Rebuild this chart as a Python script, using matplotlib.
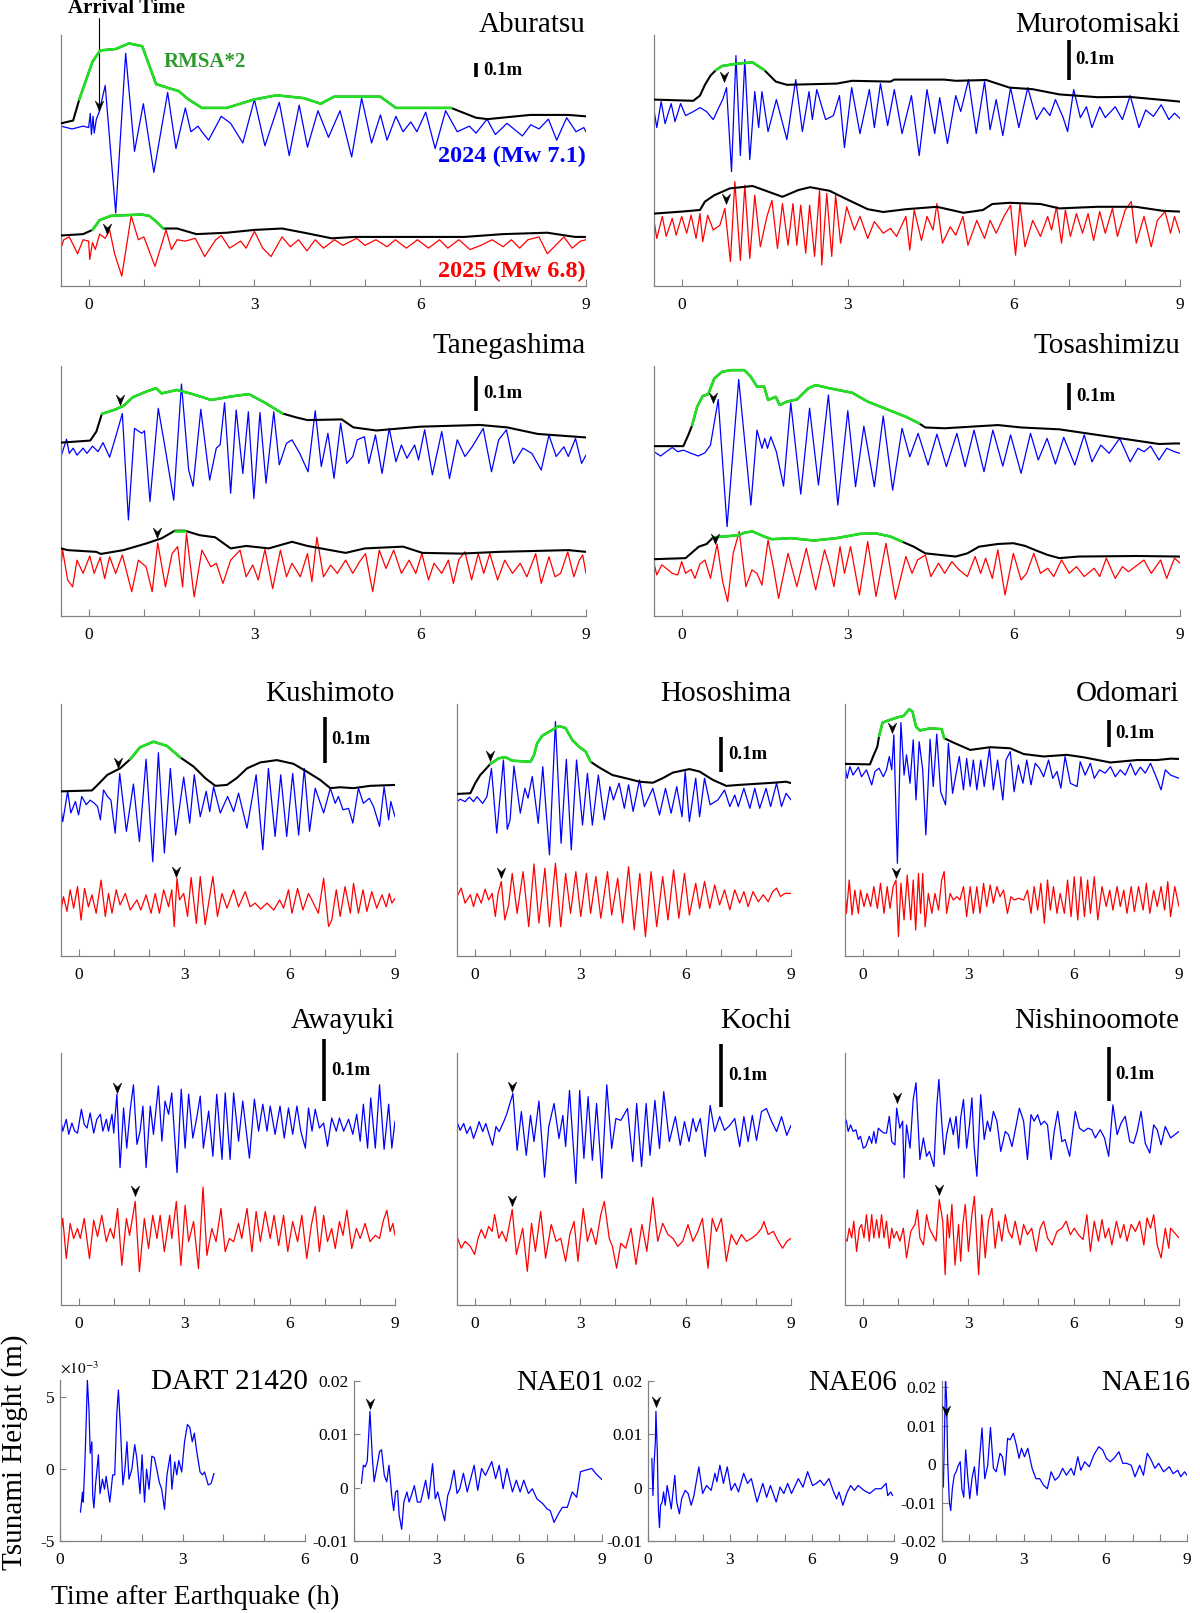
import numpy as np
import matplotlib
matplotlib.use('Agg')
import matplotlib.pyplot as plt
from matplotlib.path import Path

plt.rcParams['font.family'] = ['Liberation Serif', 'DejaVu Serif']
plt.rcParams['axes.unicode_minus'] = False
plt.rcParams['mathtext.fontset'] = 'stix'
plt.rcParams['lines.solid_joinstyle'] = 'round'
plt.rcParams['lines.solid_capstyle'] = 'round'

# ---------------- data: (time h, height m relative to trace baseline) ----------------
ABU_BLUE = [(-0.5,0.00),(-0.3,-0.02),(-0.1,0.00),(0.0,-0.01),(0.03,0.09),(0.05,-0.06),(0.08,0.07),(0.10,-0.05),(0.14,0.05),(0.19,0.10),(0.30,0.29),(0.49,-0.62),(0.67,0.52),(0.83,-0.18),(0.99,0.16),(1.18,-0.33),(1.43,0.24),(1.58,-0.16),(1.75,0.13),(1.85,-0.04),(1.98,0.00),(2.05,-0.04),(2.17,-0.10),(2.40,0.07),(2.57,0.02),(2.79,-0.12),(3.00,0.19),(3.19,-0.14),(3.45,0.17),(3.63,-0.21),(3.81,0.15),(3.96,-0.15),(4.15,0.11),(4.34,-0.08),(4.55,0.11),(4.76,-0.22),(4.94,0.20),(5.12,-0.12),(5.28,0.08),(5.40,-0.10),(5.56,0.07),(5.69,-0.04),(5.83,0.03),(5.94,-0.04),(6.10,0.10),(6.27,-0.16),(6.46,0.11),(6.67,-0.04),(6.89,0.00),(7.01,-0.05),(7.21,0.05),(7.36,-0.06),(7.57,0.02),(7.85,-0.07),(8.00,0.01),(8.15,-0.02),(8.32,0.05),(8.47,-0.10),(8.65,0.06),(8.82,-0.04),(8.96,-0.01),(9.0,-0.04)]
ABU_BENV = [(-0.5,0.02),(-0.28,0.04),(-0.17,0.19),(0.07,0.46),(0.21,0.54),(0.49,0.55),(0.73,0.59),(0.97,0.57),(1.22,0.30),(1.46,0.27),(1.63,0.25),(1.81,0.19),(2.05,0.13),(2.5,0.13),(2.99,0.19),(3.4,0.22),(3.89,0.20),(4.2,0.16),(4.44,0.21),(5.28,0.21),(5.56,0.13),(6.56,0.13),(7.01,0.06),(7.22,0.05),(7.99,0.08),(8.68,0.08),(9.0,0.07)]
ABU_RED = [(-0.5,-0.06),(-0.45,0.0),(-0.35,0.02),(-0.2,-0.10),(-0.1,0.0),(0.0,-0.01),(0.02,-0.14),(0.07,-0.02),(0.12,-0.07),(0.2,0.04),(0.3,0.01),(0.38,0.07),(0.47,-0.10),(0.6,-0.26),(0.77,0.17),(0.9,0.0),(1.0,0.02),(1.2,-0.19),(1.4,0.07),(1.5,-0.07),(1.6,0.0),(1.75,-0.01),(1.93,0.01),(2.1,-0.12),(2.3,0.0),(2.4,0.03),(2.55,-0.06),(2.75,-0.01),(2.85,-0.06),(3.0,0.06),(3.15,-0.06),(3.3,-0.12),(3.5,0.02),(3.65,-0.05),(3.8,0.0),(3.95,-0.08),(4.1,0.0),(4.25,-0.06),(4.45,0.0),(4.6,-0.04),(4.85,0.01),(5.0,-0.04),(5.2,0.0),(5.4,-0.05),(5.55,0.0),(5.75,-0.06),(5.95,0.0),(6.15,-0.06),(6.35,0.0),(6.5,-0.06),(6.7,0.0),(6.9,-0.07),(7.1,-0.04),(7.3,0.0),(7.5,-0.05),(7.65,0.0),(7.8,-0.06),(7.95,0.0),(8.15,0.02),(8.3,-0.10),(8.45,-0.04),(8.6,0.02),(8.75,-0.06),(8.9,-0.01),(9.0,0.0)]
ABU_RENV = [(-0.5,0.03),(-0.1,0.04),(0.07,0.07),(0.2,0.14),(0.4,0.17),(0.95,0.18),(1.1,0.17),(1.25,0.12),(1.35,0.08),(1.6,0.08),(1.95,0.04),(2.5,0.05),(3.0,0.07),(3.5,0.08),(3.9,0.05),(4.4,0.01),(4.8,0.02),(6.0,0.02),(6.8,0.02),(7.5,0.04),(8.3,0.05),(8.8,0.02),(9.0,0.02)]

MUR_BLUE = [(-0.5,0.004),(-0.45,-0.04),(-0.37,0.025),(-0.30,-0.03),(-0.19,0.02),(-0.12,-0.025),(-0.02,0.02),(0.07,-0.01),(0.21,0.0),(0.33,0.01),(0.45,0.0),(0.57,-0.02),(0.67,0.01),(0.74,0.03),(0.81,0.06),(0.90,-0.15),(0.98,0.14),(1.06,-0.11),(1.14,0.13),(1.23,-0.12),(1.32,0.05),(1.39,-0.04),(1.45,0.05),(1.56,-0.05),(1.71,0.03),(1.90,-0.07),(2.06,0.08),(2.18,-0.05),(2.30,0.05),(2.36,-0.02),(2.44,0.055),(2.60,-0.02),(2.74,-0.01),(2.85,0.04),(2.94,-0.09),(3.07,0.06),(3.22,-0.055),(3.39,0.055),(3.48,-0.04),(3.59,0.07),(3.72,-0.035),(3.84,0.055),(3.98,-0.055),(4.15,0.04),(4.29,-0.11),(4.43,0.055),(4.57,-0.055),(4.66,0.035),(4.80,-0.08),(4.95,0.04),(5.04,0.0),(5.18,0.08),(5.32,-0.055),(5.47,0.075),(5.57,-0.045),(5.68,0.03),(5.80,-0.06),(5.94,0.06),(6.09,-0.04),(6.25,0.06),(6.41,-0.02),(6.54,0.01),(6.65,-0.01),(6.75,0.03),(6.89,-0.015),(6.97,-0.05),(7.08,0.055),(7.20,-0.015),(7.31,0.012),(7.41,-0.04),(7.55,0.012),(7.65,-0.015),(7.83,0.012),(7.96,-0.02),(8.10,0.04),(8.26,-0.04),(8.38,0.004),(8.52,-0.012),(8.66,0.017),(8.80,-0.02),(8.90,-0.004),(9.0,-0.017)]
MUR_BENV = [(-0.5,0.03),(0.21,0.027),(0.33,0.04),(0.42,0.067),(0.52,0.09),(0.62,0.104),(0.73,0.114),(1.0,0.12),(1.28,0.123),(1.49,0.104),(1.70,0.075),(1.9,0.067),(2.8,0.07),(3.08,0.077),(3.77,0.075),(3.84,0.08),(4.74,0.08),(4.95,0.077),(5.5,0.079),(5.92,0.06),(6.34,0.056),(6.82,0.043),(7.51,0.036),(8.07,0.037),(8.62,0.03),(9.0,0.025)]
MUR_RED = [(-0.5,0.02),(-0.45,-0.025),(-0.35,0.03),(-0.28,-0.02),(-0.17,0.025),(-0.10,-0.017),(0.0,0.03),(0.09,-0.012),(0.17,0.033),(0.26,-0.025),(0.33,0.037),(0.38,-0.033),(0.47,0.033),(0.57,-0.004),(0.69,0.008),(0.78,0.05),(0.88,-0.083),(0.96,0.117),(1.06,-0.08),(1.14,0.108),(1.23,-0.075),(1.32,0.083),(1.42,-0.046),(1.54,0.03),(1.63,0.07),(1.73,-0.05),(1.82,0.062),(1.92,-0.042),(2.01,0.062),(2.08,-0.042),(2.15,0.058),(2.24,-0.062),(2.31,0.058),(2.40,-0.07),(2.49,0.096),(2.53,-0.092),(2.62,0.087),(2.71,-0.07),(2.78,0.083),(2.87,-0.037),(2.98,0.054),(3.12,-0.004),(3.22,0.03),(3.36,-0.025),(3.48,0.017),(3.64,-0.012),(3.77,0.0),(3.88,-0.02),(4.05,0.03),(4.12,-0.054),(4.20,0.046),(4.33,-0.03),(4.43,0.03),(4.54,-0.004),(4.61,0.062),(4.71,-0.037),(4.85,0.004),(4.95,-0.017),(5.08,0.03),(5.17,-0.042),(5.33,0.02),(5.47,-0.025),(5.57,0.02),(5.68,-0.012),(5.82,0.03),(5.94,0.058),(6.03,-0.067),(6.11,0.062),(6.20,-0.046),(6.34,0.02),(6.48,-0.02),(6.61,0.03),(6.68,-0.004),(6.77,0.054),(6.86,-0.037),(6.93,0.046),(7.02,-0.02),(7.13,0.037),(7.24,-0.012),(7.34,0.037),(7.44,-0.03),(7.55,0.042),(7.65,-0.012),(7.78,0.05),(7.87,-0.02),(8.01,0.046),(8.12,0.067),(8.21,-0.037),(8.35,0.03),(8.48,-0.046),(8.59,0.02),(8.73,0.042),(8.83,-0.012),(8.90,0.03),(9.0,-0.012)]
MUR_RENV = [(-0.5,0.037),(0.0,0.042),(0.33,0.046),(0.42,0.067),(0.59,0.083),(0.87,0.1),(1.28,0.106),(1.56,0.092),(1.82,0.079),(2.11,0.096),(2.32,0.103),(2.67,0.094),(3.01,0.071),(3.36,0.048),(3.64,0.041),(4.05,0.048),(4.61,0.054),(5.09,0.039),(5.44,0.046),(5.61,0.061),(5.92,0.064),(6.48,0.061),(6.82,0.05),(7.51,0.054),(8.2,0.054),(8.69,0.044),(9.0,0.042)]

TAN_BLUE = [(-0.5,-0.014),(-0.4,0.036),(-0.35,-0.005),(-0.28,0.01),(-0.21,-0.01),(-0.1,0.01),(-0.03,-0.005),(0.07,0.016),(0.17,0.0),(0.26,0.026),(0.38,-0.016),(0.49,0.043),(0.61,0.11),(0.72,-0.197),(0.83,0.067),(0.96,0.053),(1.01,0.06),(1.11,-0.144),(1.26,0.125),(1.39,0.005),(1.54,-0.14),(1.68,0.195),(1.81,-0.053),(1.89,-0.10),(2.03,0.122),(2.19,-0.082),(2.31,0.01),(2.38,0.02),(2.46,0.141),(2.57,-0.12),(2.67,0.12),(2.79,-0.063),(2.89,0.115),(2.99,-0.135),(3.10,0.113),(3.21,-0.091),(3.35,0.115),(3.45,-0.038),(3.58,0.024),(3.68,0.034),(3.82,-0.005),(3.97,-0.058),(4.10,0.118),(4.21,-0.043),(4.33,0.053),(4.44,-0.077),(4.56,0.082),(4.67,-0.034),(4.78,-0.014),(4.86,0.034),(4.99,0.043),(5.07,-0.034),(5.19,0.048),(5.31,-0.063),(5.44,0.067),(5.56,-0.029),(5.66,0.019),(5.76,-0.019),(5.90,0.019),(5.97,-0.024),(6.08,0.063),(6.22,-0.067),(6.39,0.058),(6.53,-0.077),(6.67,0.034),(6.81,-0.014),(6.94,0.014),(7.14,0.067),(7.29,-0.058),(7.42,0.034),(7.56,0.063),(7.69,-0.034),(7.86,0.01),(8.02,-0.005),(8.19,-0.053),(8.33,0.048),(8.46,-0.014),(8.60,0.014),(8.68,-0.014),(8.81,0.038),(8.92,-0.034),(9.0,-0.01)]
TAN_BENV = [(-0.5,0.026),(0.03,0.032),(0.14,0.058),(0.24,0.109),(0.49,0.122),(0.63,0.132),(0.8,0.157),(1.04,0.173),(1.22,0.183),(1.32,0.168),(1.6,0.178),(1.88,0.166),(2.22,0.149),(2.57,0.159),(2.9,0.166),(3.19,0.141),(3.51,0.11),(3.75,0.099),(3.96,0.091),(4.58,0.093),(4.79,0.07),(5.21,0.061),(6.0,0.072),(7.08,0.077),(7.57,0.07),(8.13,0.051),(8.82,0.043),(9.0,0.041)]
TAN_RED = [(-0.5,0.0),(-0.47,0.048),(-0.38,-0.038),(-0.29,-0.058),(-0.21,0.019),(-0.1,-0.019),(0.02,0.031),(0.10,-0.019),(0.21,0.027),(0.29,-0.034),(0.38,0.029),(0.49,-0.019),(0.61,0.034),(0.78,-0.072),(0.90,0.019),(1.04,0.0),(1.15,-0.072),(1.25,0.069),(1.39,-0.058),(1.51,0.038),(1.61,0.058),(1.70,-0.058),(1.77,0.096),(1.91,-0.087),(2.05,0.048),(2.21,0.0),(2.31,0.01),(2.43,-0.048),(2.57,0.019),(2.74,0.048),(2.85,-0.029),(2.97,0.005),(3.07,-0.038),(3.19,0.05),(3.33,-0.063),(3.47,0.048),(3.58,-0.029),(3.68,0.01),(3.83,-0.029),(3.96,0.038),(4.04,-0.043),(4.13,0.085),(4.25,-0.029),(4.38,0.005),(4.50,-0.019),(4.65,0.019),(4.78,-0.019),(4.90,0.014),(5.01,0.038),(5.14,-0.072),(5.26,0.048),(5.38,-0.005),(5.52,0.048),(5.66,-0.019),(5.80,0.019),(5.92,-0.019),(6.03,0.038),(6.15,-0.038),(6.25,0.01),(6.39,-0.019),(6.51,0.019),(6.60,-0.048),(6.70,0.021),(6.81,0.043),(6.93,-0.038),(7.05,0.038),(7.15,-0.019),(7.26,0.038),(7.40,-0.038),(7.53,0.019),(7.67,-0.019),(7.81,0.01),(7.93,-0.029),(8.09,0.038),(8.19,-0.048),(8.33,0.029),(8.44,-0.029),(8.54,-0.019),(8.67,0.043),(8.78,-0.029),(8.88,0.019),(8.94,0.034),(9.0,-0.019)]
TAN_RENV = [(-0.5,0.053),(-0.38,0.048),(0.14,0.043),(0.22,0.037),(0.63,0.048),(1.04,0.067),(1.32,0.082),(1.56,0.104),(1.74,0.104),(2.01,0.091),(2.29,0.085),(2.57,0.053),(2.85,0.06),(3.26,0.053),(3.68,0.072),(3.96,0.06),(4.65,0.04),(5.0,0.053),(5.69,0.058),(6.04,0.04),(6.74,0.038),(7.43,0.043),(8.68,0.048),(9.0,0.043)]

TOS_BLUE = [(-0.5,0.0),(-0.38,-0.016),(-0.28,0.0),(-0.17,0.016),(-0.07,0.0),(0.03,0.006),(0.17,-0.006),(0.30,-0.016),(0.42,-0.004),(0.52,0.025),(0.66,0.196),(0.82,-0.281),(1.03,0.271),(1.25,-0.2),(1.36,0.081),(1.45,0.013),(1.50,0.05),(1.55,0.013),(1.61,0.056),(1.71,0.0),(1.84,-0.129),(1.97,0.184),(2.15,-0.159),(2.31,0.163),(2.47,-0.125),(2.65,0.213),(2.82,-0.2),(3.0,0.154),(3.14,-0.131),(3.29,0.096),(3.48,-0.131),(3.64,0.134),(3.81,-0.144),(3.98,0.088),(4.12,-0.019),(4.27,0.069),(4.45,-0.05),(4.61,0.066),(4.78,-0.056),(4.97,0.069),(5.12,-0.056),(5.28,0.081),(5.46,-0.075),(5.62,0.081),(5.80,-0.054),(5.94,0.063),(6.13,-0.081),(6.30,0.069),(6.44,-0.031),(6.60,0.05),(6.75,-0.046),(6.90,0.054),(7.10,-0.05),(7.27,0.063),(7.41,-0.038),(7.57,0.025),(7.72,-0.006),(7.91,0.05),(8.10,-0.038),(8.24,0.013),(8.35,0.0),(8.47,0.021),(8.62,-0.031),(8.76,0.013),(8.90,0.0),(9.0,-0.006)]
TOS_BENV = [(-0.5,0.021),(0.03,0.021),(0.12,0.063),(0.19,0.1),(0.28,0.169),(0.38,0.209),(0.48,0.216),(0.59,0.275),(0.73,0.3),(0.90,0.306),(1.13,0.306),(1.25,0.281),(1.36,0.244),(1.49,0.244),(1.56,0.194),(1.70,0.206),(1.77,0.175),(1.90,0.188),(2.08,0.196),(2.29,0.238),(2.42,0.25),(2.67,0.238),(3.08,0.221),(3.36,0.188),(3.77,0.154),(4.05,0.131),(4.29,0.106),(4.40,0.091),(4.75,0.088),(5.71,0.1),(6.13,0.091),(6.82,0.084),(7.51,0.063),(8.07,0.046),(8.62,0.029),(8.90,0.031),(9.0,0.031)]
TOS_RED = [(-0.5,0.019),(-0.45,-0.025),(-0.36,0.013),(-0.28,0.0),(-0.17,-0.019),(-0.07,-0.025),(0.0,0.025),(0.07,-0.019),(0.17,-0.004),(0.24,-0.038),(0.33,0.016),(0.42,0.031),(0.52,-0.038),(0.64,0.091),(0.74,-0.05),(0.83,-0.125),(0.93,0.056),(1.04,0.138),(1.16,-0.069),(1.27,-0.006),(1.36,-0.019),(1.45,-0.063),(1.56,0.106),(1.66,0.0),(1.75,-0.113),(1.92,0.056),(2.08,-0.069),(2.25,0.075),(2.42,-0.081),(2.58,0.069),(2.67,0.006),(2.75,-0.069),(2.86,0.081),(2.94,-0.019),(3.05,0.081),(3.21,-0.1),(3.36,0.1),(3.51,-0.106),(3.69,0.094),(3.86,-0.116),(4.05,0.044),(4.16,-0.019),(4.26,0.031),(4.40,0.05),(4.50,-0.031),(4.64,0.019),(4.75,-0.019),(4.88,0.025),(5.01,-0.006),(5.16,-0.031),(5.30,0.044),(5.40,-0.019),(5.49,0.038),(5.61,-0.038),(5.71,0.069),(5.84,-0.1),(5.99,0.056),(6.13,-0.044),(6.23,-0.019),(6.36,0.056),(6.48,-0.019),(6.61,0.0),(6.72,-0.031),(6.86,0.031),(7.0,-0.019),(7.13,0.006),(7.27,-0.031),(7.45,0.0),(7.55,-0.031),(7.67,0.038),(7.83,-0.038),(7.96,0.006),(8.07,-0.013),(8.35,0.031),(8.48,-0.019),(8.65,0.031),(8.76,-0.038),(8.90,0.038),(9.0,0.019)]
TOS_RENV = [(-0.5,0.034),(0.07,0.038),(0.17,0.056),(0.31,0.081),(0.45,0.091),(0.57,0.116),(0.87,0.121),(1.04,0.125),(1.14,0.134),(1.28,0.138),(1.49,0.119),(1.63,0.109),(1.97,0.113),(2.39,0.104),(2.80,0.113),(3.22,0.129),(3.50,0.131),(3.77,0.119),(3.98,0.1),(4.19,0.081),(4.40,0.056),(4.67,0.05),(4.95,0.044),(5.16,0.056),(5.37,0.081),(5.71,0.091),(5.99,0.094),(6.2,0.084),(6.41,0.066),(6.61,0.05),(6.82,0.038),(7.17,0.044),(8.21,0.046),(9.0,0.044)]

KUS_BLUE = [(-0.5,-0.004),(-0.45,-0.033),(-0.31,0.033),(-0.22,-0.014),(-0.09,0.011),(0.0,-0.018),(0.09,0.022),(0.22,0.004),(0.33,0.014),(0.45,0.007),(0.54,0.0),(0.62,-0.029),(0.71,0.036),(0.82,0.022),(0.92,0.014),(1.04,-0.058),(1.17,0.072),(1.36,-0.054),(1.56,0.049),(1.73,-0.076),(1.92,0.103),(2.11,-0.12),(2.27,0.117),(2.44,-0.101),(2.61,0.083),(2.76,-0.062),(2.99,0.064),(3.16,-0.036),(3.29,0.069),(3.46,-0.022),(3.63,0.033),(3.73,-0.011),(3.84,0.043),(4.03,-0.014),(4.24,0.022),(4.41,-0.011),(4.55,0.029),(4.79,-0.047),(5.05,0.069),(5.24,-0.094),(5.40,0.083),(5.59,-0.065),(5.75,0.069),(5.92,-0.065),(6.09,0.072),(6.26,-0.062),(6.42,0.083),(6.57,-0.054),(6.73,0.040),(6.97,-0.014),(7.16,0.040),(7.30,0.007),(7.39,0.022),(7.52,-0.007),(7.68,-0.004),(7.80,-0.036),(7.96,0.040),(8.10,0.007),(8.27,0.018),(8.39,0.0),(8.56,-0.043),(8.69,0.043),(8.82,-0.029),(8.88,0.011),(9.0,-0.022)]
KUS_BENV = [(-0.5,0.033),(0.38,0.035),(0.54,0.047),(0.82,0.069),(1.18,0.083),(1.47,0.103),(1.75,0.129),(2.13,0.141),(2.51,0.132),(2.89,0.107),(3.27,0.087),(3.60,0.062),(3.89,0.045),(4.22,0.047),(4.50,0.062),(4.79,0.083),(5.17,0.096),(5.64,0.101),(6.11,0.093),(6.49,0.076),(6.87,0.058),(7.16,0.04),(7.44,0.042),(7.82,0.04),(8.29,0.045),(9.0,0.047)]
KUS_RED = [(-0.5,-0.011),(-0.43,0.018),(-0.33,-0.014),(-0.24,0.033),(-0.14,-0.007),(-0.03,0.040),(0.07,-0.033),(0.17,0.036),(0.28,-0.004),(0.38,0.022),(0.50,-0.018),(0.64,0.054),(0.76,-0.025),(0.85,0.025),(0.95,-0.018),(1.07,0.033),(1.18,0.0),(1.33,0.025),(1.47,-0.011),(1.66,0.011),(1.77,-0.011),(1.92,0.022),(2.06,-0.018),(2.18,0.025),(2.30,-0.018),(2.42,0.033),(2.56,-0.004),(2.65,0.033),(2.72,-0.047),(2.80,0.058),(2.87,0.011),(2.99,0.025),(3.10,-0.025),(3.20,0.060),(3.35,-0.040),(3.46,0.062),(3.60,-0.043),(3.82,0.062),(3.95,-0.025),(4.08,0.025),(4.22,-0.007),(4.41,0.033),(4.55,-0.004),(4.74,0.029),(4.88,-0.004),(5.02,0.004),(5.18,-0.009),(5.36,0.004),(5.55,-0.011),(5.72,0.011),(5.83,-0.007),(5.97,0.033),(6.07,-0.018),(6.23,0.036),(6.38,-0.011),(6.54,0.025),(6.68,0.004),(6.82,-0.018),(6.97,0.058),(7.11,-0.047),(7.20,-0.033),(7.33,0.033),(7.44,-0.025),(7.58,0.040),(7.73,-0.018),(7.82,0.047),(7.96,-0.018),(8.09,0.033),(8.20,-0.014),(8.34,0.029),(8.48,-0.007),(8.63,0.022),(8.75,-0.004),(8.84,0.025),(8.91,0.004),(9.0,0.014)]

HOS_BLUE = [(-0.5,-0.003),(-0.41,0.004),(-0.27,-0.003),(-0.15,0.01),(-0.03,-0.003),(0.07,0.011),(0.23,-0.008),(0.35,0.011),(0.48,0.092),(0.63,-0.093),(0.82,0.116),(0.93,-0.082),(1.01,-0.055),(1.12,0.099),(1.30,-0.036),(1.43,0.035),(1.52,0.007),(1.64,0.069),(1.81,-0.065),(1.94,0.097),(2.13,-0.155),(2.30,0.226),(2.46,-0.122),(2.61,0.118),(2.75,-0.141),(2.90,0.116),(3.07,-0.07),(3.21,0.078),(3.35,-0.07),(3.52,0.073),(3.69,-0.055),(3.85,0.04),(3.95,0.002),(4.11,0.05),(4.26,-0.022),(4.38,0.045),(4.51,-0.031),(4.69,0.059),(4.83,-0.017),(5.07,0.035),(5.26,-0.041),(5.43,0.035),(5.59,-0.036),(5.75,0.04),(5.90,-0.046),(5.99,0.083),(6.11,-0.06),(6.29,0.064),(6.40,-0.046),(6.54,0.064),(6.70,-0.012),(6.92,0.002),(7.11,0.03),(7.26,-0.017),(7.40,0.016),(7.50,-0.017),(7.66,0.035),(7.83,-0.022),(7.97,0.035),(8.11,-0.022),(8.29,0.035),(8.42,-0.017),(8.59,0.05),(8.73,-0.017),(8.86,0.021),(9.0,0.002)]
HOS_BENV = [(-0.5,0.019),(-0.12,0.021),(0.02,0.05),(0.16,0.073),(0.30,0.088),(0.45,0.105),(0.69,0.121),(0.88,0.124),(1.07,0.114),(1.59,0.111),(1.69,0.13),(1.78,0.164),(1.92,0.185),(2.21,0.202),(2.40,0.213),(2.59,0.207),(2.78,0.173),(2.97,0.154),(3.16,0.14),(3.30,0.111),(3.54,0.095),(3.92,0.073),(4.30,0.064),(4.69,0.054),(5.07,0.051),(5.35,0.064),(5.64,0.08),(6.11,0.09),(6.40,0.083),(6.78,0.059),(7.16,0.042),(7.54,0.045),(8.02,0.048),(8.50,0.051),(8.86,0.054),(9.0,0.05)]
HOS_RED = [(-0.5,0.005),(-0.38,0.029),(-0.27,-0.014),(-0.12,0.01),(-0.03,-0.024),(0.07,0.014),(0.19,-0.014),(0.30,0.026),(0.40,-0.005),(0.50,0.014),(0.59,-0.052),(0.67,0.014),(0.76,0.048),(0.86,-0.062),(0.97,-0.019),(1.07,0.071),(1.21,-0.043),(1.38,0.076),(1.54,-0.081),(1.69,0.098),(1.83,-0.071),(2.00,0.086),(2.13,-0.081),(2.30,0.1),(2.45,-0.081),(2.59,0.071),(2.73,-0.043),(2.88,0.076),(3.02,-0.052),(3.18,0.071),(3.30,-0.043),(3.45,0.062),(3.59,-0.057),(3.78,0.076),(3.90,-0.048),(4.07,0.057),(4.21,-0.071),(4.38,0.09),(4.54,-0.09),(4.70,0.071),(4.86,-0.11),(5.02,0.076),(5.18,-0.081),(5.35,0.062),(5.50,-0.062),(5.66,0.081),(5.81,-0.057),(5.97,0.071),(6.11,-0.048),(6.29,0.043),(6.40,-0.029),(6.54,0.048),(6.69,-0.029),(6.83,0.038),(6.97,-0.019),(7.11,0.024),(7.26,-0.033),(7.40,0.024),(7.54,-0.014),(7.66,0.019),(7.78,-0.024),(7.92,0.019),(8.07,-0.01),(8.21,0.01),(8.35,-0.01),(8.48,0.019),(8.59,0.029),(8.70,0.005),(8.83,0.014),(9.0,0.014)]

ODO_BLUE = [(-0.5,0.022),(-0.44,-0.021),(-0.36,0.022),(-0.27,-0.009),(-0.12,0.02),(-0.03,-0.015),(0.11,0.01),(0.26,-0.045),(0.35,0.004),(0.47,0.016),(0.59,-0.015),(0.68,0.01),(0.76,0.059),(0.83,0.01),(0.89,0.138),(0.99,-0.332),(1.09,0.183),(1.18,-0.009),(1.25,0.065),(1.35,-0.039),(1.44,0.12),(1.52,-0.1),(1.61,0.113),(1.71,0.01),(1.80,-0.228),(1.92,0.122),(2.01,-0.051),(2.11,0.141),(2.22,-0.07),(2.36,-0.118),(2.44,0.107),(2.56,-0.076),(2.68,0.01),(2.75,0.059),(2.87,-0.063),(2.96,0.052),(3.06,-0.051),(3.15,0.046),(3.25,-0.063),(3.36,0.046),(3.46,-0.051),(3.61,0.089),(3.72,-0.063),(3.84,0.046),(3.99,-0.1),(4.08,0.046),(4.20,0.077),(4.31,-0.07),(4.43,0.028),(4.56,-0.039),(4.67,0.046),(4.79,-0.045),(4.91,0.034),(5.03,0.016),(5.15,-0.015),(5.29,0.046),(5.41,-0.021),(5.53,0.004),(5.64,-0.057),(5.76,0.059),(5.91,-0.039),(6.10,-0.051),(6.19,0.04),(6.33,-0.009),(6.48,0.034),(6.59,-0.021),(6.74,0.01),(6.90,-0.002),(7.05,0.022),(7.19,-0.015),(7.33,0.01),(7.47,-0.009),(7.62,0.034),(7.76,-0.009),(7.90,0.02),(8.04,-0.002),(8.19,0.034),(8.33,-0.009),(8.49,-0.063),(8.61,0.01),(8.76,-0.009),(9.0,-0.021)]
ODO_BENV = [(-0.5,0.032),(0.21,0.03),(0.30,0.059),(0.42,0.095),(0.47,0.134),(0.57,0.183),(0.78,0.193),(0.99,0.202),(1.16,0.207),(1.25,0.22),(1.33,0.232),(1.42,0.223),(1.52,0.168),(1.63,0.154),(1.92,0.162),(2.25,0.159),(2.32,0.126),(2.58,0.11),(3.06,0.083),(3.63,0.093),(4.20,0.089),(4.58,0.068),(5.15,0.059),(5.81,0.065),(6.29,0.056),(7.05,0.037),(7.81,0.046),(8.38,0.046),(8.76,0.051),(9.0,0.05)]
ODO_RED = [(-0.5,0.03),(-0.46,-0.055),(-0.38,0.067),(-0.30,-0.061),(-0.22,0.03),(-0.12,-0.055),(-0.06,0.03),(0.04,-0.03),(0.13,0.018),(0.23,-0.03),(0.32,0.043),(0.42,-0.037),(0.51,0.055),(0.61,-0.055),(0.70,0.043),(0.78,-0.037),(0.87,0.043),(0.95,0.067),(1.02,-0.14),(1.09,0.055),(1.18,-0.079),(1.27,0.085),(1.37,-0.079),(1.44,0.067),(1.51,-0.116),(1.59,0.091),(1.65,-0.055),(1.71,0.091),(1.78,-0.104),(1.87,0.018),(1.97,-0.055),(2.06,0.018),(2.16,-0.043),(2.25,0.067),(2.32,0.098),(2.39,-0.055),(2.49,0.018),(2.58,-0.006),(2.68,0.006),(2.77,-0.006),(2.87,0.043),(2.96,-0.067),(3.06,0.043),(3.15,-0.055),(3.25,0.043),(3.34,-0.055),(3.44,0.055),(3.53,-0.03),(3.63,0.049),(3.72,-0.018),(3.82,0.043),(3.91,0.006),(4.01,0.03),(4.12,-0.055),(4.22,0.006),(4.31,-0.006),(4.43,0.0),(4.58,-0.006),(4.69,0.03),(4.79,-0.055),(4.88,0.043),(4.98,-0.043),(5.07,0.055),(5.17,-0.091),(5.26,0.067),(5.34,-0.043),(5.43,0.043),(5.53,-0.055),(5.62,0.018),(5.74,-0.055),(5.83,0.067),(5.93,-0.067),(6.02,0.079),(6.12,-0.079),(6.21,0.079),(6.31,-0.067),(6.40,0.067),(6.48,-0.055),(6.59,0.079),(6.69,-0.079),(6.81,0.043),(6.93,-0.03),(7.03,0.03),(7.12,-0.043),(7.24,0.043),(7.33,-0.03),(7.43,0.03),(7.52,-0.055),(7.64,0.043),(7.73,-0.049),(7.85,0.043),(7.98,-0.043),(8.07,0.055),(8.17,-0.055),(8.28,0.03),(8.38,-0.03),(8.49,0.043),(8.59,-0.043),(8.68,0.061),(8.76,-0.067),(8.88,0.043),(9.0,-0.03)]

AWA_BLUE = [(-0.5,0.008),(-0.45,-0.008),(-0.35,0.011),(-0.28,-0.013),(-0.19,0.005),(-0.11,-0.008),(-0.03,-0.011),(0.08,0.027),(0.16,0.003),(0.24,-0.003),(0.33,0.021),(0.43,-0.011),(0.52,0.011),(0.62,0.019),(0.69,-0.008),(0.79,0.011),(0.85,-0.008),(0.95,0.019),(1.0,-0.011),(1.09,0.051),(1.18,-0.066),(1.28,0.029),(1.37,-0.035),(1.47,0.027),(1.56,0.066),(1.66,-0.029),(1.75,-0.008),(1.83,0.032),(1.92,-0.066),(2.04,0.032),(2.13,-0.013),(2.27,0.064),(2.37,-0.024),(2.46,0.04),(2.56,0.019),(2.65,0.053),(2.80,-0.074),(2.92,0.059),(3.03,-0.035),(3.13,0.051),(3.25,-0.019),(3.36,0.013),(3.46,0.048),(3.55,-0.035),(3.70,0.024),(3.82,-0.048),(3.93,0.051),(4.08,-0.053),(4.17,0.053),(4.31,-0.053),(4.41,0.053),(4.55,-0.024),(4.67,0.04),(4.86,-0.051),(5.0,0.043),(5.12,-0.008),(5.24,0.035),(5.36,-0.008),(5.45,0.032),(5.59,-0.013),(5.73,0.032),(5.85,-0.019),(5.97,0.029),(6.09,-0.013),(6.21,0.032),(6.32,-0.008),(6.45,-0.035),(6.54,0.029),(6.64,-0.008),(6.73,0.027),(6.85,-0.003),(6.97,0.005),(7.08,-0.032),(7.20,0.013),(7.33,-0.008),(7.42,0.013),(7.54,-0.008),(7.68,0.011),(7.80,-0.013),(7.91,0.019),(8.01,-0.024),(8.10,0.035),(8.22,-0.035),(8.31,0.045),(8.44,-0.035),(8.56,0.066),(8.69,-0.037),(8.82,0.035),(8.91,-0.035),(9.0,0.008)]
AWA_RED = [(-0.5,0.003),(-0.45,0.024),(-0.35,-0.04),(-0.24,0.016),(-0.14,-0.008),(-0.03,0.008),(0.05,-0.008),(0.16,0.024),(0.31,-0.04),(0.43,0.021),(0.54,-0.005),(0.66,0.029),(0.79,-0.013),(0.90,0.008),(1.0,-0.008),(1.11,0.04),(1.23,-0.051),(1.36,0.024),(1.45,-0.003),(1.61,0.051),(1.73,-0.061),(1.87,0.024),(1.99,-0.024),(2.11,0.029),(2.23,-0.008),(2.32,0.029),(2.44,-0.029),(2.59,0.029),(2.65,-0.008),(2.78,0.051),(2.91,-0.051),(3.03,0.045),(3.13,-0.013),(3.27,0.019),(3.41,-0.056),(3.54,0.074),(3.65,-0.035),(3.79,0.008),(3.91,-0.013),(4.05,0.04),(4.17,-0.029),(4.29,-0.008),(4.41,-0.013),(4.55,0.016),(4.64,-0.008),(4.79,0.04),(4.93,-0.029),(5.05,0.035),(5.17,-0.013),(5.31,0.035),(5.45,-0.008),(5.56,0.029),(5.69,-0.019),(5.83,0.029),(5.95,-0.029),(6.09,0.019),(6.23,-0.013),(6.35,0.029),(6.49,-0.04),(6.62,0.013),(6.73,0.043),(6.85,-0.029),(6.97,0.029),(7.08,-0.013),(7.20,0.008),(7.30,-0.024),(7.42,0.019),(7.52,-0.003),(7.63,0.037),(7.77,-0.024),(7.90,0.008),(8.01,-0.008),(8.15,0.016),(8.29,-0.013),(8.44,-0.003),(8.56,-0.008),(8.67,0.021),(8.77,0.037),(8.86,0.003),(8.94,0.016),(9.0,-0.003)]

KOC_BLUE = [(-0.5,0.011),(-0.41,-0.003),(-0.31,0.008),(-0.22,-0.008),(-0.12,0.003),(-0.03,-0.016),(0.07,0.0),(0.13,0.011),(0.23,-0.005),(0.32,0.008),(0.42,-0.011),(0.51,-0.027),(0.61,0.003),(0.70,-0.005),(0.83,0.011),(0.92,0.024),(1.02,0.043),(1.09,0.056),(1.21,-0.035),(1.33,0.027),(1.47,-0.043),(1.59,0.021),(1.69,-0.021),(1.83,0.044),(1.99,-0.078),(2.11,0.003),(2.26,0.04),(2.40,-0.016),(2.51,0.021),(2.59,-0.029),(2.70,0.061),(2.88,-0.088),(2.99,0.061),(3.11,-0.048),(3.23,0.051),(3.35,-0.051),(3.47,0.04),(3.62,-0.08),(3.76,0.07),(3.90,-0.032),(4.02,0.016),(4.16,0.013),(4.35,0.032),(4.50,-0.053),(4.61,0.04),(4.75,-0.061),(4.88,0.04),(4.99,-0.043),(5.13,0.045),(5.26,-0.032),(5.38,0.059),(5.54,-0.021),(5.71,0.019),(5.85,-0.027),(5.97,0.011),(6.10,-0.021),(6.21,0.016),(6.30,-0.005),(6.42,0.016),(6.56,-0.045),(6.70,0.037),(6.83,-0.005),(6.97,0.019),(7.11,-0.003),(7.26,0.005),(7.40,0.016),(7.54,-0.029),(7.66,0.019),(7.78,-0.021),(7.90,0.021),(8.02,-0.019),(8.16,0.027),(8.30,0.032),(8.45,0.011),(8.59,-0.005),(8.73,0.019),(8.88,-0.011),(9.0,0.005)]
KOC_RED = [(-0.5,0.008),(-0.38,-0.011),(-0.27,0.0),(-0.12,-0.008),(0.0,-0.021),(0.10,0.005),(0.19,0.019),(0.30,0.005),(0.40,0.024),(0.50,0.016),(0.57,0.043),(0.69,0.005),(0.78,0.016),(0.90,0.0),(1.07,0.051),(1.19,-0.021),(1.30,0.005),(1.37,0.021),(1.50,-0.048),(1.62,0.029),(1.73,-0.016),(1.88,0.048),(2.02,-0.027),(2.18,0.027),(2.32,0.0),(2.45,0.005),(2.59,-0.032),(2.71,0.011),(2.83,0.032),(2.94,-0.032),(3.09,0.053),(3.21,0.0),(3.32,0.021),(3.45,-0.005),(3.59,0.043),(3.69,0.064),(3.83,0.005),(3.92,-0.008),(4.04,-0.043),(4.16,-0.003),(4.30,-0.011),(4.45,0.021),(4.59,-0.037),(4.76,0.027),(4.90,-0.016),(5.07,0.07),(5.21,0.0),(5.35,0.029),(5.50,0.011),(5.64,0.005),(5.78,-0.008),(5.92,0.0),(6.07,0.027),(6.21,0.0),(6.35,0.016),(6.48,0.037),(6.64,-0.043),(6.76,0.037),(6.88,0.016),(7.02,0.037),(7.16,-0.032),(7.30,0.011),(7.45,-0.005),(7.59,0.011),(7.73,0.0),(7.88,0.005),(8.02,0.011),(8.16,0.021),(8.23,0.032),(8.35,0.011),(8.50,0.016),(8.64,0.0),(8.76,-0.011),(8.88,0.0),(9.0,0.005)]

NIS_BLUE = [(-0.5,0.025),(-0.46,0.019),(-0.41,0.0),(-0.34,0.012),(-0.27,0.0),(-0.19,0.003),(-0.12,-0.015),(-0.06,-0.009),(0.02,-0.031),(0.09,-0.028),(0.19,-0.009),(0.26,-0.022),(0.32,0.0),(0.38,-0.022),(0.45,0.006),(0.54,0.0),(0.61,-0.003),(0.68,-0.003),(0.76,0.028),(0.83,-0.019),(0.92,-0.025),(0.97,0.043),(1.06,0.006),(1.14,0.019),(1.18,-0.086),(1.25,0.012),(1.35,-0.031),(1.44,0.059),(1.52,0.09),(1.63,-0.052),(1.73,-0.012),(1.82,-0.046),(1.90,-0.037),(1.97,-0.052),(2.03,-0.065),(2.11,0.046),(2.17,0.096),(2.25,0.019),(2.32,-0.043),(2.39,-0.006),(2.49,0.025),(2.58,-0.006),(2.66,0.028),(2.73,-0.031),(2.79,0.025),(2.87,0.059),(2.96,-0.031),(3.04,0.012),(3.11,0.062),(3.17,-0.025),(3.25,-0.083),(3.36,0.068),(3.46,-0.015),(3.55,0.019),(3.63,0.0),(3.72,0.037),(3.82,0.019),(3.93,-0.037),(4.06,0.0),(4.15,-0.006),(4.25,-0.028),(4.37,0.012),(4.46,0.043),(4.58,0.019),(4.69,-0.052),(4.79,0.031),(4.88,0.019),(4.98,0.031),(5.07,0.012),(5.17,0.019),(5.26,0.012),(5.36,-0.052),(5.45,0.0),(5.55,0.037),(5.67,-0.019),(5.76,-0.015),(5.89,-0.046),(6.05,0.037),(6.17,0.006),(6.29,0.0),(6.41,0.006),(6.52,0.003),(6.62,-0.012),(6.76,0.003),(6.88,-0.012),(7.0,-0.046),(7.12,0.049),(7.24,-0.006),(7.35,0.015),(7.47,0.028),(7.60,-0.019),(7.71,-0.022),(7.81,0.0),(7.92,0.037),(8.04,-0.022),(8.17,-0.04),(8.28,0.012),(8.38,0.003),(8.49,-0.025),(8.61,0.009),(8.76,-0.012),(9.0,0.0)]
NIS_RED = [(-0.5,-0.006),(-0.44,-0.012),(-0.38,0.012),(-0.31,-0.006),(-0.25,0.025),(-0.17,-0.031),(-0.09,0.012),(-0.03,0.019),(0.04,-0.006),(0.11,0.037),(0.19,-0.012),(0.26,0.037),(0.32,-0.006),(0.40,0.028),(0.47,-0.006),(0.54,0.037),(0.61,-0.006),(0.68,0.025),(0.76,-0.025),(0.83,0.012),(0.89,-0.006),(0.97,0.006),(1.06,-0.012),(1.16,0.012),(1.25,-0.043),(1.37,0.006),(1.49,0.019),(1.56,0.046),(1.63,-0.006),(1.73,-0.019),(1.82,0.037),(1.90,0.012),(1.99,0.0),(2.09,-0.012),(2.18,0.065),(2.28,0.025),(2.35,-0.074),(2.41,0.037),(2.47,-0.006),(2.54,0.056),(2.63,-0.056),(2.73,0.019),(2.79,-0.049),(2.85,0.019),(2.92,0.056),(3.01,-0.031),(3.11,0.037),(3.18,0.071),(3.30,-0.074),(3.39,0.037),(3.49,-0.043),(3.58,0.025),(3.68,0.049),(3.77,-0.025),(3.87,0.025),(3.96,-0.012),(4.06,0.037),(4.15,0.006),(4.25,-0.006),(4.34,0.025),(4.48,-0.019),(4.58,0.019),(4.69,0.0),(4.81,0.012),(4.94,-0.031),(5.05,0.012),(5.15,0.025),(5.26,-0.006),(5.39,-0.019),(5.53,0.006),(5.67,0.012),(5.79,0.025),(5.91,0.0),(6.02,0.012),(6.14,0.0),(6.27,-0.009),(6.38,0.037),(6.48,-0.031),(6.59,0.025),(6.71,-0.012),(6.81,0.028),(6.90,-0.006),(7.0,0.012),(7.09,-0.019),(7.22,0.025),(7.33,-0.006),(7.43,0.019),(7.52,-0.012),(7.64,0.019),(7.76,0.006),(7.88,0.025),(8.0,-0.019),(8.09,0.031),(8.19,0.012),(8.28,0.037),(8.38,-0.019),(8.49,-0.043),(8.61,0.012),(8.71,-0.025),(8.76,0.012),(9.0,-0.006)]

DART = [(0.5,-0.0030),(0.53,-0.0022),(0.55,-0.0016),(0.57,-0.0023),(0.61,0.0005),(0.64,0.0031),(0.67,0.0062),(0.71,0.0041),(0.74,0.0011),(0.78,0.0019),(0.80,-0.0018),(0.83,-0.0027),(0.87,-0.0011),(0.94,0.0010),(0.98,-0.0017),(1.04,-0.0007),(1.09,-0.0014),(1.13,-0.0005),(1.22,-0.0023),(1.29,-0.0004),(1.34,-0.0004),(1.39,0.0038),(1.43,0.0055),(1.48,0.0029),(1.54,-0.0011),(1.59,0.0000),(1.64,0.0019),(1.69,-0.0007),(1.76,0.0000),(1.83,0.0017),(1.88,0.0008),(1.96,-0.0017),(2.01,0.0010),(2.07,-0.0023),(2.12,0.0000),(2.18,-0.0014),(2.25,0.0009),(2.31,0.0008),(2.37,0.0000),(2.43,-0.0009),(2.49,-0.0014),(2.56,-0.0028),(2.62,-0.0004),(2.70,0.0010),(2.74,-0.0014),(2.81,0.0005),(2.86,-0.0004),(2.91,0.0006),(2.98,-0.0002),(3.05,0.0019),(3.12,0.0031),(3.18,0.0029),(3.24,0.0019),(3.29,0.0025),(3.35,0.0012),(3.43,-0.0002),(3.49,-0.0004),(3.54,-0.0002),(3.63,-0.0011),(3.70,-0.0010),(3.77,-0.0003)]
NAE01 = [(0.27,0.0008),(0.34,0.0042),(0.41,0.0039),(0.48,0.0049),(0.58,0.0143),(0.66,0.0061),(0.73,0.0011),(0.82,0.0036),(0.93,0.0068),(1.0,0.0071),(1.10,0.0023),(1.19,0.0011),(1.27,0.0042),(1.37,-0.0015),(1.44,-0.0043),(1.51,-0.0008),(1.58,-0.0005),(1.64,-0.0052),(1.73,-0.0078),(1.81,-0.0027),(1.92,-0.0008),(2.0,-0.0027),(2.08,-0.0015),(2.19,0.0004),(2.30,-0.0027),(2.42,-0.0027),(2.60,0.0014),(2.71,-0.0021),(2.85,0.0045),(2.95,-0.0021),(3.04,-0.0008),(3.15,-0.0033),(3.29,-0.0062),(3.40,-0.0015),(3.49,-0.0002),(3.63,0.0033),(3.74,-0.0011),(3.84,-0.0002),(3.97,0.0027),(4.11,-0.0008),(4.36,0.0042),(4.49,-0.0005),(4.63,0.0036),(4.77,0.0023),(5.0,0.0049),(5.14,0.0017),(5.27,0.0042),(5.41,-0.0002),(5.55,0.0036),(5.75,-0.0008),(5.89,0.0014),(6.03,-0.0008),(6.16,0.0014),(6.33,-0.0011),(6.47,-0.0002),(6.64,-0.0021),(6.85,-0.003),(7.01,-0.004),(7.12,-0.0043),(7.26,-0.0065),(7.42,-0.0049),(7.56,-0.0037),(7.74,-0.0037),(7.92,-0.0008),(8.08,-0.0018),(8.22,0.003),(8.42,0.0033),(8.63,0.0036),(8.8,0.0025),(9.0,0.0015)]
NAE06 = [(0.14,0.0055),(0.18,-0.0015),(0.22,0.0042),(0.27,0.0087),(0.29,0.0143),(0.34,0.0068),(0.38,-0.004),(0.42,-0.0075),(0.46,-0.0033),(0.52,-0.0027),(0.57,-0.0008),(0.63,-0.0033),(0.70,0.0004),(0.77,-0.0015),(0.85,-0.004),(0.98,0.0023),(1.05,-0.0027),(1.15,-0.0049),(1.23,-0.0021),(1.36,-0.0005),(1.47,-0.0011),(1.58,-0.0033),(1.68,-0.0015),(1.86,0.0039),(2.0,-0.0011),(2.14,0.0004),(2.31,-0.0005),(2.45,0.0027),(2.52,0.0011),(2.63,0.0042),(2.76,0.0008),(2.90,0.0039),(3.04,-0.0005),(3.18,0.0008),(3.31,-0.0008),(3.50,0.0027),(3.64,0.0008),(3.78,0.0017),(3.99,-0.0027),(4.20,0.0008),(4.34,-0.0018),(4.48,0.0004),(4.69,-0.0027),(4.83,0.0001),(4.97,-0.0011),(5.11,0.0008),(5.25,-0.0011),(5.50,0.0017),(5.67,0.0001),(5.84,0.003),(6.02,0.0004),(6.16,0.0008),(6.30,0.0014),(6.44,0.0004),(6.62,0.0017),(6.79,-0.0008),(6.90,-0.0021),(6.99,-0.0008),(7.13,-0.0033),(7.27,-0.0011),(7.41,0.0004),(7.55,-0.0005),(7.69,0.0004),(7.90,-0.0005),(8.11,-0.0011),(8.32,-0.0002),(8.53,-0.0002),(8.71,0.0008),(8.77,-0.0015),(8.88,-0.0008),(8.95,-0.0015)]
NAE16 = [(0.05,-0.006),(0.10,0.0111),(0.13,0.0225),(0.17,0.0164),(0.21,0.0006),(0.27,-0.0099),(0.32,-0.0121),(0.38,-0.0064),(0.45,-0.0029),(0.52,-0.002),(0.60,-0.0003),(0.67,0.0006),(0.73,-0.0064),(0.80,-0.0086),(0.87,0.0037),(0.94,-0.0029),(1.02,-0.009),(1.10,-0.0038),(1.19,-0.0007),(1.29,-0.0081),(1.38,0.0015),(1.47,0.0094),(1.57,-0.0038),(1.68,-0.0003),(1.78,0.0095),(1.89,-0.0011),(1.99,-0.002),(2.13,0.0028),(2.22,0.0019),(2.31,-0.0029),(2.41,0.0067),(2.50,0.0063),(2.62,0.008),(2.73,0.005),(2.83,0.0015),(2.92,0.0041),(3.03,0.0019),(3.15,0.0041),(3.31,-0.0011),(3.45,-0.0038),(3.59,-0.0038),(3.73,-0.0055),(3.87,-0.0064),(4.01,-0.002),(4.15,-0.0042),(4.29,-0.0033),(4.43,-0.0011),(4.57,-0.0029),(4.74,-0.0011),(4.85,-0.0029),(4.99,0.0019),(5.10,-0.0016),(5.24,0.0006),(5.41,-0.0007),(5.58,0.0024),(5.76,0.0045),(5.90,0.0037),(6.04,0.0015),(6.18,0.0006),(6.32,0.0015),(6.50,0.0032),(6.64,0.0002),(6.78,0.0002),(6.95,-0.0003),(7.09,-0.0033),(7.26,-0.0003),(7.40,-0.0029),(7.54,0.0028),(7.68,0.0011),(7.82,-0.0011),(7.96,0.0002),(8.14,-0.002),(8.35,-0.0007),(8.49,-0.0025),(8.66,-0.0016),(8.77,-0.0033),(8.91,-0.002),(9.0,-0.0029)]

STATION_NAMES = ['Aburatsu', 'Murotomisaki', 'Tanegashima', 'Tosashimizu', 'Kushimoto',
                 'Hososhima', 'Odomari', 'Awayuki', 'Kochi', 'Nishinoomote']
OFFSHORE_NAMES = ['DART 21420', 'NAE01', 'NAE06', 'NAE16']
XTICKS = [0, 3, 6, 9]
XTICKLABELS = ['0', '3', '6', '9']
# arrival times (h) and tip heights (m above trace baseline): 2024, 2025
ARRIVALS = {
    'Aburatsu': [(0.19, 0.11), (0.33, 0.04)],
    'Murotomisaki': [(0.77, 0.075), (0.80, 0.062)],
    'Tanegashima': [(0.57, 0.135), (1.24, 0.082)],
    'Tosashimizu': [(0.57, 0.181), (0.61, 0.091)],
    'Kushimoto': [(1.12, 0.083), (2.77, 0.06)],
    'Hososhima': [(0.43, 0.114), (0.75, 0.057)],
    'Odomari': [(0.83, 0.144), (0.95, 0.073)],
    'Awayuki': [(1.09, 0.053), (1.61, 0.059)],
    'Kochi': [(1.07, 0.059), (1.07, 0.056)],
    'Nishinoomote': [(0.98, 0.052), (2.18, 0.074)],
}
OFFSHORE_ARRIVALS = {'NAE01': (0.57, 0.0147), 'NAE06': (0.29, 0.0151), 'NAE16': (0.14, 0.0124)}

# ---------------- styling ----------------
W, H = 1200, 1613
BLUE, RED, GREEN, LBL_GREEN = '#0000ff', '#ff0000', '#22e022', '#2e9a2e'
AXC = '#808080'

ARROW = Path([(0, 0), (-0.4, 1), (0, 0.62), (0.4, 1), (0, 0)],
             [Path.MOVETO, Path.LINETO, Path.LINETO, Path.LINETO, Path.CLOSEPOLY])

fig = plt.figure(figsize=(W / 100, H / 100), dpi=100)


def add_ax(l, t, r, b):
    return fig.add_axes([l / W, 1 - b / H, (r - l) / W, (b - t) / H])


def base_style(ax, xlim, ticks, labels):
    for s in ['top', 'right']:
        ax.spines[s].set_visible(False)
    for s in ['left', 'bottom']:
        ax.spines[s].set_color(AXC)
        ax.spines[s].set_linewidth(0.9)
    ax.set_xlim(*xlim)
    ax.set_xticks(ticks)
    ax.set_xticklabels(labels)
    ax.set_xticks(np.arange(int(np.ceil(xlim[0])), int(xlim[1]) + 1), minor=True)
    ax.tick_params(axis='both', which='both', direction='in', length=5, width=0.8,
                   color=AXC, labelsize=12.5, labelcolor='black')
    ax.tick_params(axis='x', pad=8)
    ax.patch.set_alpha(0)


def arrow(ax, t, y):
    ax.plot([t], [y], marker=ARROW, ms=15, color='k', mec='k', mew=0.4,
            linestyle='none', clip_on=False, zorder=6)


def plot_env(ax, env, off, green):
    e = np.array(env)
    ax.plot(e[:, 0], e[:, 1] + off, color='k', lw=1.5, zorder=3)
    if green is not None:
        m = (e[:, 0] >= green[0] - 1e-9) & (e[:, 0] <= green[1] + 1e-9)
        ax.plot(e[m, 0], e[m, 1] + off, color=GREEN, lw=1.9, zorder=4)


PANELS = [
    dict(name='Aburatsu', rect=(61, 35, 586, 286), ytop=1.79, boff=1.14, roff=0.33,
         blue=ABU_BLUE, red=ABU_RED, benv=ABU_BENV, renv=ABU_RENV,
         bgreen=(-0.17, 6.56), rgreen=(0.07, 1.35), bar=(7.01, 1.49), ndy=10),
    dict(name='Murotomisaki', rect=(654, 35, 1180, 286), ytop=0.6275, boff=0.436, roff=0.144,
         blue=MUR_BLUE, red=MUR_RED, benv=MUR_BENV, renv=MUR_RENV,
         bgreen=(0.62, 1.49), rgreen=None, bar=(6.99, 0.515), ndy=10),
    dict(name='Tanegashima', rect=(61, 366, 586, 616), ytop=0.721, boff=0.474, roff=0.142,
         blue=TAN_BLUE, red=TAN_RED, benv=TAN_BENV, renv=TAN_RENV,
         bgreen=(0.24, 3.51), rgreen=(1.56, 1.74), bar=(7.01, 0.592), ndy=20),
    dict(name='Tosashimizu', rect=(654, 366, 1180, 616), ytop=0.9375, boff=0.616, roff=0.179,
         blue=TOS_BLUE, red=TOS_RED, benv=TOS_BENV, renv=TOS_RENV,
         bgreen=(0.19, 4.29), rgreen=(0.57, 3.98), bar=(7.0, 0.7725), ndy=20),
    dict(name='Kushimoto', rect=(61, 704, 395, 956), ytop=0.548, boff=0.325, roff=0.111,
         blue=KUS_BLUE, red=KUS_RED, benv=KUS_BENV, renv=None,
         bgreen=(1.47, 2.89), rgreen=None, bar=(7.0, 0.42), ndy=10),
    dict(name='Hososhima', rect=(457, 704, 791, 956), ytop=0.72, boff=0.444, roff=0.165,
         blue=HOS_BLUE, red=HOS_RED, benv=HOS_BENV, renv=None,
         bgreen=(0.45, 3.30), rgreen=None, bar=(7.02, 0.527), ndy=10),
    dict(name='Odomari', rect=(845, 704, 1179, 956), ytop=0.922, boff=0.671, roff=0.211,
         blue=ODO_BLUE, red=ODO_RED, benv=ODO_BENV, renv=None,
         bgreen=(0.47, 2.32), rgreen=None, bar=(7.0, 0.763), ndy=10),
    dict(name='Awayuki', rect=(61, 1053, 395, 1305), ytop=0.4016, boff=0.285, roff=0.114,
         blue=AWA_BLUE, red=AWA_RED, benv=None, renv=None,
         bgreen=None, rgreen=None, bar=(6.99, 0.3245), ndy=32),
    dict(name='Kochi', rect=(457, 1053, 791, 1305), ytop=0.404, boff=0.283, roff=0.102,
         blue=KOC_BLUE, red=KOC_RED, benv=None, renv=None,
         bgreen=None, rgreen=None, bar=(7.02, 0.318), ndy=32),
    dict(name='Nishinoomote', rect=(845, 1053, 1179, 1305), ytop=0.466, boff=0.321, roff=0.13,
         blue=NIS_BLUE, red=NIS_RED, benv=None, renv=None,
         bgreen=None, rgreen=None, bar=(7.0, 0.3765), ndy=32),
]

for p in PANELS:
    ax = add_ax(*p['rect'])
    base_style(ax, (-0.5, 9), XTICKS, XTICKLABELS)
    ax.set_ylim(0, p['ytop'])
    ax.set_yticks([])
    b = np.array(p['blue'])
    r = np.array(p['red'])
    ax.plot(b[:, 0], b[:, 1] + p['boff'], color=BLUE, lw=0.9, zorder=2)
    ax.plot(r[:, 0], r[:, 1] + p['roff'], color=RED, lw=0.9, zorder=2)
    if p['benv'] is not None:
        plot_env(ax, p['benv'], p['boff'], p['bgreen'])
    if p['renv'] is not None:
        plot_env(ax, p['renv'], p['roff'], p['rgreen'])
    (tb, yb), (tr, yr) = ARRIVALS[p['name']]
    arrow(ax, tb, yb + p['boff'])
    arrow(ax, tr, yr + p['roff'])
    # scale bar
    bt, by = p['bar']
    ax.plot([bt, bt], [by, by + 0.1], color='k', lw=2.6, clip_on=False, solid_capstyle='butt')
    ax.annotate('0.1m', xy=(bt, by + 0.05), xytext=(7, 0), textcoords='offset pixels',
                ha='left', va='center', fontsize=13.5, fontweight='bold', annotation_clip=False)
    ax.annotate(p['name'], xy=(1, 1), xycoords='axes fraction', xytext=(0, p['ndy']),
                textcoords='offset pixels', ha='right', va='center', fontsize=21,
                annotation_clip=False)
    if p['name'] == 'Aburatsu':
        ax.text(9.0, 0.924, '2024 (Mw 7.1)', color=BLUE, fontsize=17.5, fontweight='bold',
                ha='right', va='center')
        ax.text(9.0, 0.102, '2025 (Mw 6.8)', color=RED, fontsize=17.5, fontweight='bold',
                ha='right', va='center')
        ax.text(1.35, 1.60, 'RMSA*2', color=LBL_GREEN, fontsize=15, fontweight='bold',
                ha='left', va='center')
        ax.text(0.69, 1.98, 'Arrival Time', color='k', fontsize=15, fontweight='bold',
                ha='center', va='center', clip_on=False)
        ax.plot([tb, tb], [1.91, yb + p['boff'] + 0.03], color='k', lw=0.8, clip_on=False)

# ---------------- bottom row: offshore gauges ----------------
OFF_PANELS = [
    dict(name='DART 21420', data=DART, rect=(60, 1380, 305, 1541), xlim=(0, 6),
         ylim=(-0.005, 0.0062), yt=[-0.005, 0, 0.005], ytl=['-5', '0', '5'],
         xt=[0, 3, 6], xtl=['0', '3', '6']),
    dict(name='NAE01', data=NAE01, rect=(354, 1381, 602, 1541), xlim=(0, 9),
         ylim=(-0.01, 0.02), yt=[-0.01, 0, 0.01, 0.02], ytl=['-0.01', '0', '0.01', '0.02'],
         xt=XTICKS, xtl=XTICKLABELS),
    dict(name='NAE06', data=NAE06, rect=(648, 1381, 894, 1541), xlim=(0, 9),
         ylim=(-0.01, 0.02), yt=[-0.01, 0, 0.01, 0.02], ytl=['-0.01', '0', '0.01', '0.02'],
         xt=XTICKS, xtl=XTICKLABELS),
    dict(name='NAE16', data=NAE16, rect=(942, 1381, 1187, 1541), xlim=(0, 9),
         ylim=(-0.02, 0.0216), yt=[-0.02, -0.01, 0, 0.01, 0.02],
         ytl=['-0.02', '-0.01', '0', '0.01', '0.02'], xt=XTICKS, xtl=XTICKLABELS),
]

for p in OFF_PANELS:
    ax = add_ax(*p['rect'])
    base_style(ax, p['xlim'], p['xt'], p['xtl'])
    ax.set_ylim(*p['ylim'])
    ax.set_yticks(p['yt'])
    ax.set_yticklabels(p['ytl'])
    ax.tick_params(axis='y', which='major', pad=4, length=4)
    ax.tick_params(axis='y', which='minor', left=False)
    d = np.array(p['data'])
    ax.plot(d[:, 0], d[:, 1], color=BLUE, lw=0.9)
    if p['name'] in OFFSHORE_ARRIVALS:
        t, y = OFFSHORE_ARRIVALS[p['name']]
        arrow(ax, t, y)
    ax.annotate(p['name'], xy=(1, 1), xycoords='axes fraction', xytext=(3, -2),
                textcoords='offset pixels', ha='right', va='center', fontsize=21,
                annotation_clip=False)
    if p['name'].startswith('DART'):
        ax.annotate(r'$\times10^{-3}$', xy=(0, 1), xycoords='axes fraction', xytext=(0, 12),
                    textcoords='offset pixels', ha='left', va='center', fontsize=11,
                    annotation_clip=False)

fig.text(15 / W, 1 - 1452 / H, 'Tsunami Height (m)', rotation=90, ha='center', va='center',
         fontsize=21)
fig.text(195 / W, 1 - 1597 / H, 'Time after Earthquake (h)', ha='center', va='center',
         fontsize=20)

fig.savefig('out.png', dpi=100)
